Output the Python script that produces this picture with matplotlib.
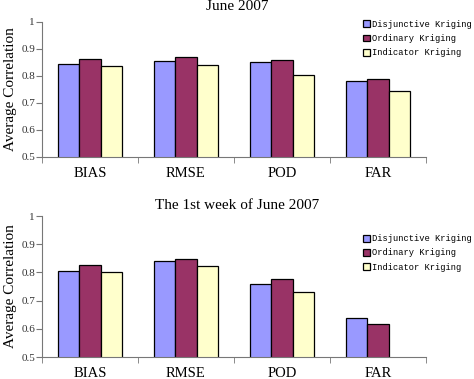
import numpy as np
import matplotlib
matplotlib.use("Agg")
import matplotlib.pyplot as plt
from matplotlib.patches import Patch

categories = ["BIAS", "RMSE", "POD", "FAR"]
methods = ["Disjunctive Kriging", "Ordinary Kriging", "Indicator Kriging"]
colors = ["#9999ff", "#993366", "#ffffcc"]

# June 2007
month_dk = [0.844, 0.856, 0.851, 0.780]
month_ok = [0.863, 0.870, 0.858, 0.787]
month_ik = [0.837, 0.842, 0.804, 0.745]

# first week of June 2007 (no indicator kriging bar for FAR)
week_dk = [0.806, 0.842, 0.758, 0.638]
week_ok = [0.826, 0.848, 0.778, 0.616]
week_ik = [0.800, 0.822, 0.732, np.nan]

plt.rcParams['font.family'] = ['Liberation Serif', 'DejaVu Serif']

fig = plt.figure(figsize=(4.74, 3.79), dpi=100)
ax1 = fig.add_axes([0.0886, 0.586, 0.810, 0.356])
ax2 = fig.add_axes([0.0886, 0.058, 0.810, 0.372])

x = np.arange(len(categories))
w = 0.225

def draw(ax, series, title, title_y, leg_y):
    for i, vals in enumerate(series):
        ax.bar(x + (i - 1) * w, vals, w, color=colors[i], edgecolor="black",
               linewidth=0.9, zorder=2)
    ax.set_ylim(0.5, 1.0)
    ax.set_xlim(-0.5, 3.5)
    ax.set_yticks([0.5, 0.6, 0.7, 0.8, 0.9, 1.0])
    ax.set_yticklabels(["0.5", "0.6", "0.7", "0.8", "0.9", "1"], fontsize=8, color="#333333")
    ax.set_xticks(x)
    ax.set_xticklabels(categories, fontsize=10.5)
    ax.tick_params(axis="x", length=0, pad=7)
    ax.set_xticks(np.arange(-0.5, 4.0, 1.0), minor=True)
    ax.tick_params(axis="x", which="minor", length=4, color="#777777", direction="out")
    ax.tick_params(axis="y", length=4, color="#777777", direction="out", pad=1)
    for s in ["top", "right"]:
        ax.spines[s].set_visible(False)
    ax.spines["left"].set_color("#777777")
    ax.spines["bottom"].set_color("#777777")
    ax.set_ylabel("Average Correlation", fontsize=11, labelpad=3)
    fig.text(0.5, title_y, title, ha="center", va="center", fontsize=11)
    handles = [Patch(facecolor=c, edgecolor="black", linewidth=0.9) for c in colors]
    fig.legend(handles, methods, loc="upper left", bbox_to_anchor=(0.765, leg_y),
               frameon=False, prop={"family": "Liberation Mono", "size": 6.3},
               handlelength=0.8, handleheight=0.8, handletextpad=0.3,
               labelspacing=0.6, borderaxespad=0, borderpad=0)

draw(ax1, [month_dk, month_ok, month_ik], "June 2007", 0.982, 0.948)
draw(ax2, [week_dk, week_ok, week_ik], "The 1st week of June 2007", 0.458, 0.382)

fig.savefig("out.png", dpi=100)
